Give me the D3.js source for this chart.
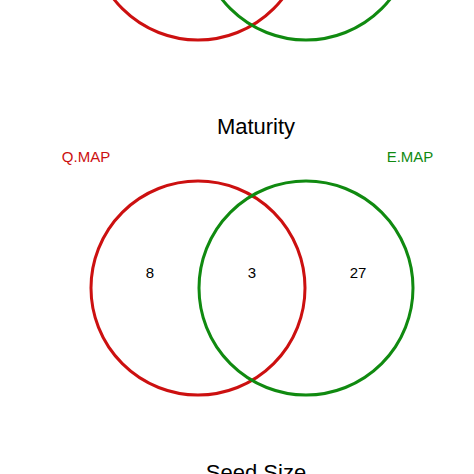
<!DOCTYPE html>
<html><head><meta charset="utf-8">
<script src="https://cdn.jsdelivr.net/npm/d3@7"></script>
<style>body{margin:0;background:#fff}</style>
</head><body>
<svg id="chart" width="474" height="474"></svg>
<script>
// panels stacked vertically (only part of the first and last are visible)
const panels = ["", "Maturity", "Seed Size"];
const sets = ["Q.MAP", "E.MAP"];
const setColors = ["#cc1010", "#108a10"];
const regions = ["Q.MAP only", "both", "E.MAP only"];
const counts = [[null, null, null], [8, 3, 27], [null, null, null]];

const svg = d3.select("#chart");
const font = "Helvetica, Arial, 'Liberation Sans', sans-serif";

// vertical layout: panel index -> circle centre y, title baseline
const y = d3.scaleLinear().domain([0, 1]).range([-67, 288]);
const titleY = d3.scaleLinear().domain([1, 2]).range([134, 480]);
// horizontal layout in venn units
const x = d3.scaleLinear().domain([0, 1]).range([198, 306]);
const r = 107;
const regionX = [150, 252, 358];

panels.forEach((title, i) => {
    const cy = y(i);
    const g = svg.append("g");
    if (cy - r < 474) sets.forEach((s, j) => {
        g.append("circle").attr("cx", x(j)).attr("cy", cy).attr("r", r)
            .attr("fill", "none").attr("stroke", setColors[j]).attr("stroke-width", 3);
    });
    if (title) {
        g.append("text").attr("x", 256).attr("y", titleY(i)).attr("text-anchor", "middle")
            .attr("font-family", font).attr("font-size", 22).text(title);
        if (i === 1) {
            g.append("text").attr("x", 86).attr("y", cy - 126).attr("text-anchor", "middle")
                .attr("font-family", font).attr("font-size", 15).attr("fill", setColors[0]).text(sets[0]);
            g.append("text").attr("x", 410).attr("y", cy - 126).attr("text-anchor", "middle")
                .attr("font-family", font).attr("font-size", 15).attr("fill", setColors[1]).text(sets[1]);
        }
    }
    counts[i].forEach((c, k) => {
        if (c === null) return;
        g.append("text").attr("x", regionX[k]).attr("y", cy - 10).attr("text-anchor", "middle")
            .attr("font-family", font).attr("font-size", 15).text(c);
    });
});
</script>
</body></html>
